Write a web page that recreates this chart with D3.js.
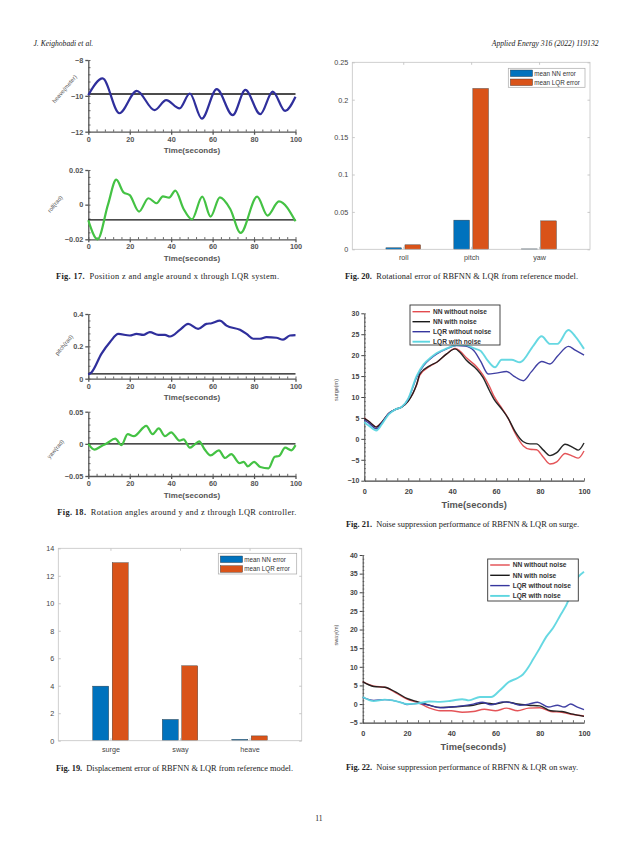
<!DOCTYPE html>
<html><head><meta charset="utf-8">
<script src="https://cdn.jsdelivr.net/npm/d3@7"></script>
<style>body{margin:0;background:#fff}svg{display:block}</style>
</head><body>
<script>
// ---------------- DATA ----------------
const timeTicks = [0, 20, 40, 60, 80, 100];

const heaveT = [0, 6.9, 15, 23.4, 32, 37.6, 44, 49, 54.8, 62, 69.7, 75.8, 83, 89, 95, 100];
const heaveV = [-9.96, -9.03, -10.97, -9.72, -10.8, -10.24, -10.7, -9.87, -11.27, -9.63, -11.08, -9.67, -11.02, -9.76, -10.84, -10.05];
const heaveRef = -9.9;

const rollT = [0, 4.5, 9.5, 13.5, 17, 20, 24.5, 29, 33, 36, 39, 42, 46, 50, 55, 59, 63.5, 68.5, 73.5, 81.5, 86.5, 92, 100];
const rollV = [-0.009, -0.02, 0, 0.0144, 0.0071, 0.0055, -0.004, 0.0037, 0.0008, 0.0048, 0.004, 0.0081, -0.0025, -0.0085, 0.0046, -0.0069, 0.0042, -0.0025, -0.0163, 0.0046, -0.0063, 0.0019, -0.0096];
const rollRef = -0.0088;

const pitchT = [0, 1.6, 6.4, 10.5, 14.5, 20, 23.3, 26.5, 29.7, 33.8, 37, 39.4, 44.2, 48.2, 53, 57, 59.5, 63.5, 66.7, 73.2, 76.4, 79.6, 82.8, 86, 90.8, 94, 97.3, 100];
const pitchV = [0.025, 0.04, 0.155, 0.227, 0.277, 0.267, 0.277, 0.271, 0.288, 0.271, 0.271, 0.261, 0.302, 0.339, 0.308, 0.339, 0.343, 0.359, 0.328, 0.302, 0.277, 0.247, 0.247, 0.257, 0.253, 0.241, 0.267, 0.269];
const pitchRef = 0.03;

const yawT = [0, 3, 6, 9, 13, 16, 19, 22, 28, 31, 34, 37, 40, 44, 46, 49, 51, 53.5, 56, 59, 63, 66, 69, 73, 75, 77, 80, 83, 87, 90, 92, 95, 98, 100];
const yawV = [0, -0.009, -0.004, 0.001, 0.008, -0.002, 0.015, 0.012, 0.028, 0.015, 0.024, 0.012, 0.018, 0.005, 0.007, -0.006, -0.002, 0.004, -0.008, -0.018, -0.01, -0.022, -0.016, -0.03, -0.028, -0.035, -0.028, -0.036, -0.038, -0.02, -0.019, -0.006, -0.01, -0.002];
const yawRef = 0;

const surgeNNT = [0, 2, 5.5, 8, 11, 14, 17, 20, 23.8, 25.3, 30, 33, 37.5, 41.3, 43.5, 46.6, 51, 54, 57, 59, 62, 65.5, 68.6, 72.4, 75.4, 78.4, 81.5, 84.5, 87.6, 91.4, 95.1, 97.4, 100];
const surgeNNclean = [5, 4.2, 2.9, 4, 6, 7, 7.6, 9, 12.8, 15.2, 17.4, 18.3, 20.3, 21.6, 21, 19.3, 17.3, 15.3, 12.5, 10.2, 7.8, 4.9, 1.4, -1.7, -2.5, -2.6, -4.4, -6, -5.5, -3.5, -4.2, -4.6, -2.9];
const surgeNNnoisy = [4.9, 4.2, 2.8, 4, 6, 7, 7.6, 9, 13, 15.5, 17.5, 18.3, 20.3, 21.5, 20.7, 18.7, 16.7, 14.7, 11.5, 9.5, 7.5, 4.9, 1.8, -0.7, -1.2, -1.2, -2.7, -4, -3.3, -1.3, -2.1, -2.7, -1];
const surgeLQRcleanT = [0, 2, 5.5, 8, 11, 14, 17, 20, 23.8, 27, 30, 33, 37.5, 42, 46, 50, 53, 56.4, 60, 64.8, 68, 72.4, 76, 80.7, 84.5, 88, 92.9, 96, 100];
const surgeLQRclean = [4.5, 3.8, 2.4, 3.8, 6, 7, 7.6, 9.5, 14.7, 17.5, 19.1, 20.3, 21.5, 22.3, 22.2, 21, 18.5, 15.5, 15.7, 16.1, 15, 13.9, 16, 18.5, 17.9, 19.8, 22.1, 21.2, 20];
const surgeLQRnoisyT = [0, 2, 5.5, 8, 11, 14, 17, 20, 23.8, 27, 30, 33, 37.5, 42, 46, 50, 53, 56, 59.5, 62.5, 67, 70.9, 77, 80.7, 84.5, 87.9, 92.9, 96, 100];
const surgeLQRnoisy = [4, 3.2, 2, 3.5, 5.8, 7, 7.6, 9.6, 15, 17.8, 19.3, 20.5, 21.6, 22.4, 22.4, 21.6, 21, 18.8, 17.1, 18.9, 18.9, 18.3, 22.3, 24.5, 22.7, 22.7, 26, 24.5, 21.5];

const swayNNT = [0, 5, 10, 15, 20, 25, 30, 35, 40, 45, 50, 55, 60, 65, 70, 75, 80, 85, 90, 95, 100];
const swayNNclean = [6, 4.8, 4.5, 3, 1.3, 0.4, -1, -1.8, -1.8, -2.2, -2, -1.4, -1.8, -1.1, -1.8, -1.1, -1, -2, -2.2, -2.8, -3.2];
const swayNNnoisy = [6, 4.7, 4.5, 3.2, 1.5, 0.6, -0.3, -0.9, -0.8, -0.6, -0.3, 0.3, 0, 0.6, 0, -0.3, -0.5, -1.8, -2, -2.7, -3.3];
const swayLQRcleanT = [0, 5, 10, 18, 20, 25, 30, 35, 40, 45, 50, 54, 58, 63, 67, 71, 75, 79, 84, 88, 91, 94, 97, 100];
const swayLQRclean = [1.8, 1, 1.2, 0.3, -0.1, 0.2, -0.3, -1, -0.8, -0.5, 0, 0.5, -0.2, 0.6, 0.4, -0.3, 0, 0.5, -0.8, -0.3, -0.8, 0, -0.8, -1.5];
const swayLQRnoisyT = [0, 5, 10, 15, 20, 25, 30, 35, 40, 45, 48, 53, 58, 62, 66, 70, 72.5, 75, 77, 80, 83, 86, 89, 93, 95, 100];
const swayLQRnoisy = [1.9, 0.8, 1.2, 0.8, 0, 0.2, 0.7, 0.6, 0.9, 1.3, 1, 1.9, 1.9, 3.7, 5.9, 7, 8, 10, 12, 15, 18.1, 20.4, 23.5, 27.9, 31.5, 35.5];

const noiseLegend = ["NN without noise", "NN with noise", "LQR without noise", "LQR with noise"];

const rotCats = ["roll", "pitch", "yaw"];
const rotNN = [0.002, 0.039, 0.0005];
const rotLQR = [0.006, 0.215, 0.038];
const rotTicks = [0, 0.05, 0.1, 0.15, 0.2, 0.25];

const dispCats = ["surge", "sway", "heave"];
const dispNN = [3.97, 1.55, 0.1];
const dispLQR = [12.95, 5.45, 0.35];
const dispTicks = [0, 2, 4, 6, 8, 10, 12, 14];

const barLegend = ["mean NN error", "mean LQR error"];

// ---------------- DRAWING ----------------
const W = 638, H = 851;
const svg = d3.select("body").append("svg").attr("width", W).attr("height", H);
const SANS = "'Liberation Sans', Arial, sans-serif";
const SERIF = "'Liberation Serif', 'Times New Roman', serif";
const BLUE = "#0072BD", ORANGE = "#D95319";
const NAVY = "#2f2f9c", GREEN = "#44c244";
const fmt = d => (d < 0 ? "\u2212" : "") + String(+Math.abs(d).toFixed(4));
const range = (a, b, s) => d3.range(a, b + s / 2, s).map(v => +v.toFixed(6));

function styleAxis(sel, color, size, weight) {
  sel.selectAll("path,line").attr("stroke", color);
  sel.selectAll("text").attr("fill", color).style("font-family", SANS)
     .style("font-size", size + "px").style("font-weight", weight);
}

// Panel of Fig. 17 / 18 (single line + black reference)
function smallPanel(p) {
  const x = d3.scaleLinear().domain([0, 100]).range([88.3, 295.5]);
  const y = d3.scaleLinear().domain(p.domain).range([p.bot, p.top]);
  const g = svg.append("g");
  const col = "#555";
  const gyMin = g.append("g").attr("transform", "translate(88.3,0)")
    .call(d3.axisRight(y).tickValues(range(p.domain[0], p.domain[1], p.minor)).tickSize(2.2).tickFormat(""));
  gyMin.select(".domain").remove();
  gyMin.selectAll("line").attr("stroke", col).attr("stroke-width", 0.9);
  const gxMin = g.append("g").attr("transform", `translate(0,${p.bot})`)
    .call(d3.axisTop(x).tickValues(range(0, 100, 4)).tickSize(2.2).tickFormat(""));
  gxMin.select(".domain").remove();
  gxMin.selectAll("line").attr("stroke", col).attr("stroke-width", 0.9);
  const gy = g.append("g").attr("transform", "translate(88.3,0)")
    .call(d3.axisLeft(y).tickValues(p.ticks).tickSize(3).tickSizeOuter(0).tickPadding(2).tickFormat(fmt));
  styleAxis(gy, col, 7.3, "bold");
  gy.selectAll("path,line").attr("stroke-width", 1.3);
  const gx = g.append("g").attr("transform", `translate(0,${p.bot})`)
    .call(d3.axisBottom(x).tickValues(timeTicks).tickSize(3).tickSizeOuter(0).tickPadding(2).tickFormat(d3.format("d")));
  styleAxis(gx, col, 7.3, "bold");
  gx.selectAll("path,line").attr("stroke-width", 1.3);
  g.append("text").attr("x", 192).attr("y", p.bot + 21.5).attr("text-anchor", "middle")
    .style("font-family", SANS).style("font-size", "8px").style("font-weight", "bold").attr("fill", col)
    .text("Time(seconds)");
  g.append("text").attr("transform", `translate(${p.lx},${p.ly}) rotate(-50)`).attr("text-anchor", "middle")
    .attr("dy", "0.35em").style("font-family", SANS).style("font-size", "5.8px").attr("fill", "#5a5a5a").text(p.ylabel);
  g.append("line").attr("x1", x(0)).attr("x2", x(100)).attr("y1", y(p.ref)).attr("y2", y(p.ref))
    .attr("stroke", "#111").attr("stroke-width", 1.4);
  const line = d3.line().x((d, i) => x(p.t[i])).y(d => y(d)).curve(d3.curveMonotoneX);
  g.append("path").attr("d", line(p.v)).attr("fill", "none").attr("stroke", p.color).attr("stroke-width", 2.2);
}

smallPanel({ domain: [-12, -8], top: 60, bot: 131.7, ticks: [-12, -10, -8], minor: 0.4, t: heaveT, v: heaveV, ref: heaveRef, color: NAVY, ylabel: "heave(meter)", lx: 64.5, ly: 89 });
smallPanel({ domain: [-0.02, 0.02], top: 170, bot: 239.3, ticks: [-0.02, 0, 0.02], minor: 0.004, t: rollT, v: rollV, ref: rollRef, color: GREEN, ylabel: "roll(rad)", lx: 55, ly: 204 });
smallPanel({ domain: [0, 0.4], top: 314, bot: 378.7, ticks: [0, 0.2, 0.4], minor: 0.04, t: pitchT, v: pitchV, ref: pitchRef, color: NAVY, ylabel: "pitch(rad)", lx: 64, ly: 345 });
smallPanel({ domain: [-0.05, 0.05], top: 411.7, bot: 476, ticks: [-0.05, 0, 0.05], minor: 0.01, t: yawT, v: yawV, ref: yawRef, color: GREEN, ylabel: "yaw(rad)", lx: 55.5, ly: 449 });

// Noise suppression charts (Fig 21/22)
function noisePanel(p) {
  const x = d3.scaleLinear().domain([0, 100]).range([p.x0, 584]);
  const y = d3.scaleLinear().domain(p.domain).range([p.bot, p.top]);
  const g = svg.append("g");
  const col = "#444";
  const gyMin = g.append("g").attr("transform", `translate(${p.x0},0)`)
    .call(d3.axisRight(y).tickValues(range(p.domain[0], p.domain[1], 1)).tickSize(1.6).tickFormat(""));
  gyMin.select(".domain").remove();
  gyMin.selectAll("line").attr("stroke", col).attr("stroke-width", 0.7);
  const gxMin = g.append("g").attr("transform", `translate(0,${p.bot})`)
    .call(d3.axisTop(x).tickValues(range(0, 100, 5)).tickSize(2.5).tickFormat(""));
  gxMin.select(".domain").remove();
  gxMin.selectAll("line").attr("stroke", col).attr("stroke-width", 0.8);
  const gy = g.append("g").attr("transform", `translate(${p.x0},0)`)
    .call(d3.axisLeft(y).tickValues(p.ticks).tickSize(3).tickSizeOuter(0).tickPadding(2).tickFormat(fmt));
  styleAxis(gy, col, 7, "bold");
  gy.selectAll("path,line").attr("stroke-width", 1);
  const gx = g.append("g").attr("transform", `translate(0,${p.bot})`)
    .call(d3.axisBottom(x).tickValues(timeTicks).tickSize(0).tickSizeOuter(0).tickPadding(8).tickFormat(d3.format("d")));
  styleAxis(gx, col, 7.3, "bold");
  gx.selectAll("path").attr("stroke-width", 1.2);
  g.append("text").attr("x", (p.x0 + 584) / 2).attr("y", p.bot + 27.5).attr("text-anchor", "middle")
    .style("font-family", SANS).style("font-size", "9.3px").style("font-weight", "bold").attr("fill", "#555")
    .text("Time(seconds)");
  g.append("text").attr("transform", `translate(${p.lx},${p.ly}) rotate(-90)`).attr("text-anchor", "middle")
    .attr("dy", "0.35em").style("font-family", SANS).style("font-size", "5.5px").attr("fill", "#555").text(p.ylabel);
  const colors = ["#e34b4f", "#1a1a1a", "#36369e", "#5ed6e0"];
  const widths = [1.4, 1.4, 1.4, 1.9];
  const line = (ts) => d3.line().x((d, i) => x(ts[i])).y(d => y(d)).curve(d3.curveMonotoneX);
  p.series.forEach((s, i) => {
    g.append("path").attr("d", line(s.t)(s.v)).attr("fill", "none")
      .attr("stroke", colors[i]).attr("stroke-width", widths[i]).attr("stroke-opacity", 0.95);
  });
  const L = p.legend;
  g.append("rect").attr("x", L.x).attr("y", L.y).attr("width", L.w).attr("height", L.h)
    .attr("fill", "#fff").attr("stroke", "#333").attr("stroke-width", 0.9);
  noiseLegend.forEach((name, i) => {
    const ry = L.y + L.r0 + i * L.dr;
    g.append("line").attr("x1", L.x + 2.5).attr("x2", L.x + L.sw).attr("y1", ry).attr("y2", ry)
      .attr("stroke", colors[i]).attr("stroke-width", widths[i]);
    g.append("text").attr("x", L.x + L.sw + 3).attr("y", ry).attr("dy", "0.35em")
      .style("font-family", SANS).style("font-size", "6.6px").style("font-weight", "bold").attr("fill", "#333").text(name);
  });
}

noisePanel({ x0: 364.3, domain: [-10, 30], top: 313.3, bot: 480.7, ticks: range(-10, 30, 5), ylabel: "surge(m)", lx: 336, ly: 390,
  series: [{ t: surgeNNT, v: surgeNNclean }, { t: surgeNNT, v: surgeNNnoisy }, { t: surgeLQRcleanT, v: surgeLQRclean }, { t: surgeLQRnoisyT, v: surgeLQRnoisy }],
  legend: { x: 410, y: 305, w: 90, h: 40, r0: 6.7, dr: 10, sw: 20 } });
noisePanel({ x0: 362.7, domain: [-5, 40], top: 555, bot: 722.7, ticks: range(-5, 40, 5), ylabel: "sway(m)", lx: 336, ly: 635,
  series: [{ t: swayNNT, v: swayNNclean }, { t: swayNNT, v: swayNNnoisy }, { t: swayLQRcleanT, v: swayLQRclean }, { t: swayLQRnoisyT, v: swayLQRnoisy }],
  legend: { x: 487.7, y: 559, w: 90.6, h: 42, r0: 6, dr: 10.3, sw: 22 } });

// Bar charts (Fig 19/20)
function barChart(p) {
  const x = d3.scalePoint().domain(p.cats).range([p.left, p.right]).padding(0.75);
  const y = d3.scaleLinear().domain([0, p.yMax]).range([p.bottom, p.top]);
  const g = svg.append("g");
  const step = x.step(), bw = step * 0.23, off = step * 0.14;
  const edge = "#333";
  g.selectAll(".nn").data(p.cats).join("rect")
    .attr("x", d => x(d) - off - bw / 2).attr("width", bw)
    .attr("y", (d, i) => y(p.nn[i])).attr("height", (d, i) => y(0) - y(p.nn[i]))
    .attr("fill", BLUE).attr("stroke", edge).attr("stroke-width", 0.4);
  g.selectAll(".lqr").data(p.cats).join("rect")
    .attr("x", d => x(d) + off - bw / 2).attr("width", bw)
    .attr("y", (d, i) => y(p.lqr[i])).attr("height", (d, i) => y(0) - y(p.lqr[i]))
    .attr("fill", ORANGE).attr("stroke", edge).attr("stroke-width", 0.4);
  const col = "#bbb";
  const gl = g.append("g").attr("transform", `translate(${p.left},0)`)
    .call(d3.axisLeft(y).tickValues(p.ticks).tickSize(-2.5).tickSizeOuter(0).tickPadding(4).tickFormat(d3.format("")));
  const gr = g.append("g").attr("transform", `translate(${p.right},0)`)
    .call(d3.axisRight(y).tickValues(p.ticks).tickSize(-2.5).tickSizeOuter(0).tickFormat(""));
  const gb = g.append("g").attr("transform", `translate(0,${p.bottom})`)
    .call(d3.axisBottom(x).tickSize(-2.5).tickSizeOuter(0).tickPadding(6));
  const gt = g.append("g").attr("transform", `translate(0,${p.top})`)
    .call(d3.axisTop(x).tickSize(-2.5).tickSizeOuter(0).tickFormat(""));
  [gl, gr, gb, gt].forEach(a => { a.select(".domain").remove(); styleAxis(a, col, 7.2, "normal"); a.selectAll("text").attr("fill", "#444"); a.selectAll("line").attr("stroke-width", 0.8); });
  g.append("rect").attr("x", p.left).attr("y", p.top).attr("width", p.right - p.left).attr("height", p.bottom - p.top)
    .attr("fill", "none").attr("stroke", "#c4c4c4").attr("stroke-width", 0.8);
  const L = p.legend;
  g.append("rect").attr("x", L.x).attr("y", L.y).attr("width", L.w).attr("height", L.h)
    .attr("fill", "#fff").attr("stroke", "#aaa").attr("stroke-width", 0.7);
  [BLUE, ORANGE].forEach((c, i) => {
    const ry = L.y + L.r0 + i * L.dr;
    g.append("rect").attr("x", L.x + 2).attr("y", ry - 3.3).attr("width", 22.3).attr("height", 6.6)
      .attr("fill", c).attr("stroke", edge).attr("stroke-width", 0.4);
    g.append("text").attr("x", L.x + 26).attr("y", ry).attr("dy", "0.35em")
      .style("font-family", SANS).style("font-size", "6.3px").attr("fill", "#333").text(barLegend[i]);
  });
}

barChart({ cats: rotCats, nn: rotNN, lqr: rotLQR, yMax: 0.25, ticks: rotTicks, left: 352.3, right: 590, top: 62.3, bottom: 249.3,
  legend: { x: 508.3, y: 68.3, w: 76.7, h: 19, r0: 5, dr: 9 } });
barChart({ cats: dispCats, nn: dispNN, lqr: dispLQR, yMax: 14, ticks: dispTicks, left: 58.3, right: 301.7, top: 548.3, bottom: 740.7,
  legend: { x: 218.3, y: 553.3, w: 78.4, h: 20.7, r0: 6, dr: 9.7 } });

// ---------------- TEXT: header, captions, page number ----------------
svg.append("text").attr("x", 33.5).attr("y", 45.5).style("font-family", SERIF).style("font-style", "italic")
  .style("font-size", "7.6px").attr("fill", "#222").text("J. Keighobadi et al.");
svg.append("text").attr("x", 598.5).attr("y", 45.5).attr("text-anchor", "end").style("font-family", SERIF).style("font-style", "italic")
  .style("font-size", "7.6px").attr("fill", "#222").text("Applied Energy 316 (2022) 119132");

function caption(x, y, len, label, rest) {
  const t = svg.append("text").attr("x", x).attr("y", y).attr("textLength", len).attr("lengthAdjust", "spacing")
    .style("font-family", SERIF).style("font-size", "8.4px").attr("fill", "#222");
  t.append("tspan").style("font-weight", "bold").text(label);
  t.append("tspan").text("\u2002" + rest);
}
caption(56, 278.7, 223, "Fig. 17.", "Position z and angle around x through LQR system.");
caption(345, 278.7, 233, "Fig. 20.", "Rotational error of RBFNN & LQR from reference model.");
caption(57.3, 515.2, 239, "Fig. 18.", "Rotation angles around y and z through LQR controller.");
caption(346, 527.2, 233, "Fig. 21.", "Noise suppression performance of RBFNN & LQR on surge.");
caption(56, 770.7, 237, "Fig. 19.", "Displacement error of RBFNN & LQR from reference model.");
caption(346, 769.7, 232, "Fig. 22.", "Noise suppression performance of RBFNN & LQR on sway.");

svg.append("text").attr("x", 319).attr("y", 821).attr("text-anchor", "middle").style("font-family", SERIF)
  .style("font-size", "7.6px").attr("fill", "#222").text("11");
</script>
</body></html>
